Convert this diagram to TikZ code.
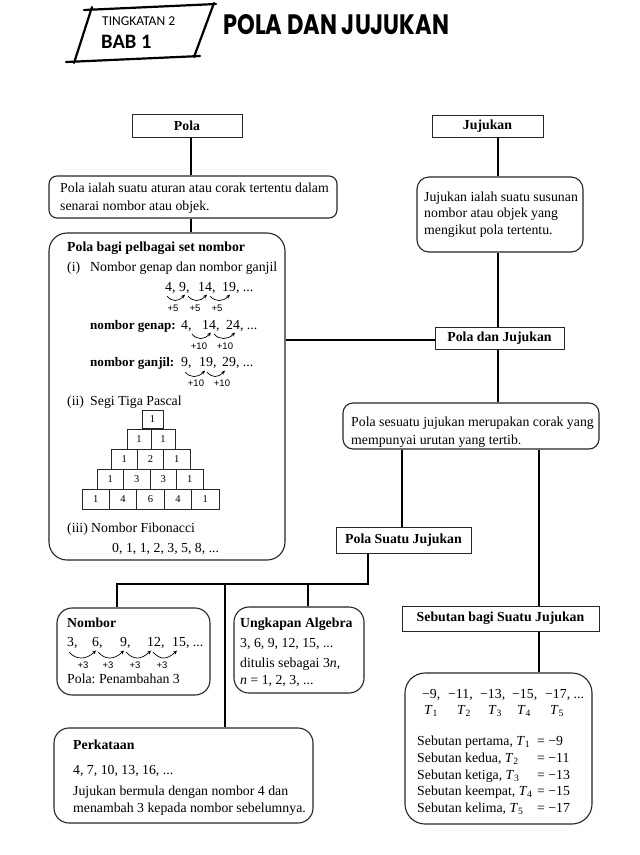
\documentclass[tikz,border=0pt]{standalone}
\usepackage{fontspec}
\usepackage{graphicx}
\setmainfont{Liberation Serif}
\newfontfamily\calibfont{Carlito}
\newfontfamily\plusfamily{Liberation Sans}
\newfontfamily\titlefamily{Poppins}
\usetikzlibrary{arrows.meta}
\newcommand{\bodyfs}{\fontsize{13.8}{17}\selectfont}
\begin{document}
\frenchspacing
\begin{tikzpicture}[x=1pt,y=-1pt,
  hdr/.style={line width=2.2pt, line cap=round},
  hbox/.style={draw=black!85, line width=1pt, inner sep=0, font=\bodyfs\bfseries},
  rbox/.style={draw=black!85, line width=1.1pt, inner sep=0, rounded corners=#1},
  rbox/.default=12,
  conn/.style={line width=1.9pt},
  txt/.style={anchor=west, inner sep=0, text height=10pt, text depth=2pt, font=\bodyfs},
  btxt/.style={txt, font=\bodyfs\bfseries},
  ntxt/.style={txt, font=\fontsize{13.1}{17}\selectfont\bfseries},
  plus/.style={inner sep=0, font=\plusfamily\fontsize{9.5}{11}\selectfont},
  pcell/.style={draw=black!85, line width=0.8pt, inner sep=0, font=\fontsize{10.5}{12}\selectfont},
  arc/.style={line width=0.7pt, -{Stealth[length=4pt,width=3.6pt]}}
]
\fill[white] (0,0) rectangle (640,855);
\useasboundingbox (0,0) rectangle (640,855);

% ---------- header ----------
\draw[hdr] (84,10) -- (216,4);
\draw[hdr] (92,7) -- (74,63);
\draw[hdr] (66,62) -- (200,56);
\draw[hdr] (214,3) -- (194,57);
\node[anchor=west, inner sep=0, font=\calibfont\fontsize{13.5}{14}\selectfont] (tk) at (102,21) {TINGKATAN 2};
\node[anchor=west, inner sep=0, font=\calibfont\bfseries\fontsize{20.5}{22}\selectfont] (bab) at (101,41.5) {BAB 1};
\node[anchor=west, inner sep=0] (title) at (223,25) {\resizebox{226pt}{20pt}{\titlefamily\bfseries POLA DAN JUJUKAN}};

% ---------- boxes ----------
\node[hbox, minimum width=110, minimum height=23] (pola) at (187,125.5) {Pola};
\node[hbox, minimum width=111, minimum height=22] (juj) at (487.5,126) {Jujukan};
\node[rbox=8, minimum width=288, minimum height=42] (pdef) at (193,197) {};
\node[rbox=18, minimum width=236, minimum height=327] (pset) at (167,396.5) {};
\node[rbox=12, minimum width=166, minimum height=75] (jdef) at (500,214.5) {};
\node[hbox, minimum width=129, minimum height=22] (pdj) at (499.5,338) {Pola dan Jujukan};
\node[rbox=10, minimum width=256, minimum height=46] (psj) at (471,426) {};
\node[hbox, minimum width=135, minimum height=26] (psuj) at (403.5,540) {Pola Suatu Jujukan};
\node[hbox, minimum width=197, minimum height=25] (sbsj) at (500.5,618.5) {Sebutan bagi Suatu Jujukan};
\node[rbox=15, minimum width=153, minimum height=87] (nomb) at (133.5,651.5) {};
\node[rbox=15, minimum width=130, minimum height=86] (ungk) at (299,650) {};
\node[rbox=15, minimum width=259, minimum height=95] (perk) at (183.5,775.5) {};
\node[rbox=20, minimum width=187, minimum height=151] (sebd) at (498.5,748.5) {};

% ---------- connectors ----------
\coordinate (xa) at (191,0);
\coordinate (xb) at (498,0);
\coordinate (xc) at (402,0);
\coordinate (xd) at (539,0);
\coordinate (xe) at (368,0);
\coordinate (xf) at (117,0);
\coordinate (xg) at (225,0);
\coordinate (xh) at (308,0);
\coordinate (yh) at (0,340);
\coordinate (yj) at (0,584);
\draw[conn] (pola.south -| xa) -- (pdef.north -| xa);
\draw[conn] (pdef.south -| xa) -- (pset.north -| xa);
\draw[conn] (juj.south -| xb) -- (jdef.north -| xb);
\draw[conn] (jdef.south -| xb) -- (pdj.north -| xb);
\draw[conn] (pdj.south -| xb) -- (psj.north -| xb);
\draw[conn] (pset.east |- yh) -- (pdj.west |- yh);
\draw[conn] (psj.south -| xc) -- (psuj.north -| xc);
\draw[conn] (psj.south -| xd) -- (sbsj.north -| xd);
\draw[conn] (psuj.south -| xe) -- (xe |- yj) -- (xf |- yj) -- (nomb.north -| xf);
\draw[conn] (xg |- yj) -- (perk.north -| xg);
\draw[conn] (xh |- yj) -- (ungk.north -| xh);
\draw[conn] (sbsj.south -| xd) -- (sebd.north -| xd);

% ---------- Pola definition ----------
\node[txt] (pd1) at (60,188) {Pola ialah suatu aturan atau corak tertentu dalam};
\node[txt] (pd2) at (60,206) {senarai nombor atau objek.};

% ---------- Pola bagi pelbagai set nombor ----------
\node[btxt] (ps0) at (67,247) {Pola bagi pelbagai set nombor};
\node[txt] (ps1) at (67,267) {(i)};
\node[txt] (ps1t) at (90,267) {Nombor genap dan nombor ganjil};
\foreach \t/\x [count=\i] in {{4,}/165, {9,}/179, {14,}/198, {19, ...}/222}
  \node[txt] (sa\i) at (\x,287) {\t};
\foreach \a/\b in {167/185, 188/207, 210/230}
  \draw[arc] (\a,296) .. controls (\a+5,302) and (\b-7,302) .. (\b,294.5);
\foreach \x [count=\i] in {173,195,217}
  \node[plus] (pa\i) at (\x,308) {+5};

\node[ntxt] (gnp) at (90,325) {nombor genap:};
\foreach \t/\x [count=\i] in {{4,}/181, {14,}/202, {24, ...}/226}
  \node[txt] (sb\i) at (\x,325) {\t};
\foreach \a/\b in {192/211, 214/235}
  \draw[arc] (\a,334) .. controls (\a+5,340) and (\b-7,340) .. (\b,332.5);
\foreach \x [count=\i] in {199,225}
  \node[plus] (pb\i) at (\x,346) {+10};

\node[ntxt] (gjl) at (90,362) {nombor ganjil:};
\foreach \t/\x [count=\i] in {{9,}/181, {19,}/199, {29, ...}/222}
  \node[txt] (sc\i) at (\x,362) {\t};
\foreach \a/\b in {185/205, 207/225}
  \draw[arc] (\a,372) .. controls (\a+5,378) and (\b-7,378) .. (\b,370.5);
\foreach \x [count=\i] in {196,222}
  \node[plus] (pc\i) at (\x,383) {+10};

\node[txt] (ps2) at (67,401) {(ii)};
\node[txt] (ps2t) at (90,401) {Segi Tiga Pascal};
% Pascal triangle
\foreach \v [count=\i] in {1}
  \node[pcell, minimum width=21, minimum height=17.5] (pr1\i) at ({142+21*(\i-0.5)},419.5) {\v};
\foreach \v [count=\i] in {1,1}
  \node[pcell, minimum width=24, minimum height=20] (pr2\i) at ({127+24*(\i-0.5)},439) {\v};
\foreach \v [count=\i] in {1,2,1}
  \node[pcell, minimum width=26.3, minimum height=19.5] (pr3\i) at ({111+26.3*(\i-0.5)},459.5) {\v};
\foreach \v [count=\i] in {1,3,3,1}
  \node[pcell, minimum width=26.5, minimum height=19.5] (pr4\i) at ({97+26.5*(\i-0.5)},479.5) {\v};
\foreach \v [count=\i] in {1,4,6,4,1}
  \node[pcell, minimum width=27.4, minimum height=19.5] (pr5\i) at ({82+27.4*(\i-0.5)},499.5) {\v};

\node[txt] (ps3) at (67,528) {(iii)};
\node[txt] (ps3t) at (91,528) {Nombor Fibonacci};
\node[txt] (fib) at (112,548) {0, 1, 1, 2, 3, 5, 8, ...};

% ---------- Jujukan definition ----------
\node[txt] (jd1) at (424,197) {Jujukan ialah suatu susunan};
\node[txt] (jd2) at (424,213) {nombor atau objek yang};
\node[txt] (jd3) at (424,230) {mengikut pola tertentu.};

% ---------- Pola sesuatu jujukan ----------
\node[txt] (pj1) at (351,422) {Pola sesuatu jujukan merupakan corak yang};
\node[txt] (pj2) at (351,440) {mempunyai urutan yang tertib.};

% ---------- Nombor ----------
\node[btxt] (nb0) at (67,623) {Nombor};
\foreach \t/\x [count=\i] in {{3,}/67, {6,}/92, {9,}/120, {12,}/147, {15, ...}/172}
  \node[txt] (sd\i) at (\x,642) {\t};
\foreach \a/\b in {69/96, 98/124, 126/151, 153/177}
  \draw[arc] (\a,652) .. controls (\a+7,660) and (\b-10,660) .. (\b,650.5);
\foreach \x [count=\i] in {83,108,135,162}
  \node[plus] (pd\i) at (\x,665) {+3};
\node[txt] (nb2) at (67,679) {Pola: Penambahan 3};

% ---------- Ungkapan Algebra ----------
\node[btxt] (ua0) at (240,623) {Ungkapan Algebra};
\node[txt] (ua1) at (240,643) {3, 6, 9, 12, 15, ...};
\node[txt] (ua2) at (240,663) {ditulis sebagai 3\textit{n},};
\node[txt] (ua3) at (240,680.5) {\textit{n} = 1, 2, 3, ...};

% ---------- Perkataan ----------
\node[btxt] (pk0) at (73,745) {Perkataan};
\node[txt] (pk1) at (73,770) {4, 7, 10, 13, 16, ...};
\node[txt] (pk2) at (73,791) {Jujukan bermula dengan nombor 4 dan};
\node[txt] (pk3) at (73,808) {menambah 3 kepada nombor sebelumnya.};

% ---------- Sebutan ----------
\foreach \t/\x [count=\i] in {{−9,}/422, {−11,}/448, {−13,}/480, {−15,}/512, {−17, ...}/545}
  \node[txt] (se\i) at (\x,694) {\t};
\foreach \x [count=\i] in {424,457,488,517,550}
  \node[txt] (tt\i) at (\x,710) {\textit{T}\textsubscript{\i}};
\node[txt] (sl1) at (417,741) {Sebutan pertama, \textit{T}\textsubscript{1}};
\node[txt] (sl2) at (417,758) {Sebutan kedua, \textit{T}\textsubscript{2}};
\node[txt] (sl3) at (417,775) {Sebutan ketiga, \textit{T}\textsubscript{3}};
\node[txt] (sl4) at (417,791.5) {Sebutan keempat, \textit{T}\textsubscript{4}};
\node[txt] (sl5) at (417,808) {Sebutan kelima, \textit{T}\textsubscript{5}};
\node[txt] (sr1) at (537,741) {= −9};
\node[txt] (sr2) at (537,758) {= −11};
\node[txt] (sr3) at (537,775) {= −13};
\node[txt] (sr4) at (537,791.5) {= −15};
\node[txt] (sr5) at (537,808) {= −17};
\end{tikzpicture}
\end{document}
